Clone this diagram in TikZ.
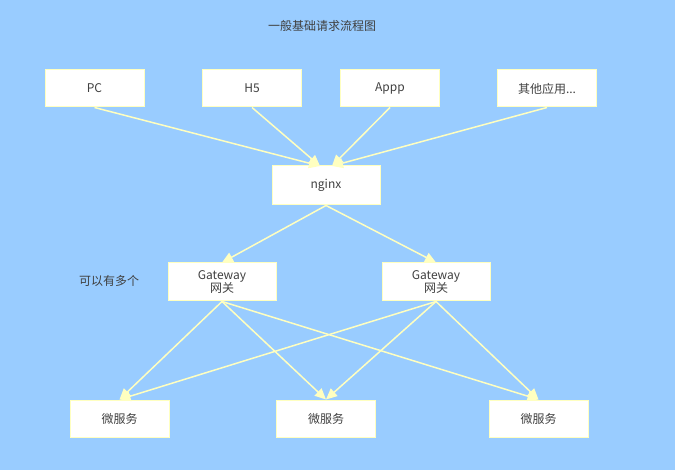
\documentclass[tikz,border=0pt]{standalone}
\usepackage{fontspec}
\setmainfont{Open Sans}
\newfontfamily\cjk{Noto Sans CJK SC}
\usetikzlibrary{arrows.meta}
\definecolor{bg}{HTML}{99CCFF}
\definecolor{ln}{HTML}{FFFFC0}
\tikzset{
 box/.style={draw=ln,fill=white,line width=1pt,minimum width=99pt,minimum height=37pt,inner sep=1pt,align=center,font=\cjk\fontsize{12}{13}\selectfont,text=black!75},
 conn/.style={draw=ln,line width=1.5pt,-{Triangle[length=11pt,width=10pt]}},
 lbl/.style={font=\cjk\fontsize{12}{13}\selectfont,text=black!75}
}
\begin{document}
\begin{tikzpicture}[x=1pt,y=-1pt]
\fill[bg] (0,0) rectangle (675,470);
\useasboundingbox (0,0) rectangle (675,470);
\node[lbl] (title) at (322,26) {一般基础请求流程图};
\node[box] (pc) at (94.5,88.5) {PC};
\node[box] (h5) at (252,88.5) {H5};
\node[box] (appp) at (390,88.5) {Appp};
\node[box] (other) at (547,88.5) {其他应用...};
\node[box,minimum width=108pt,minimum height=39pt] (nginx) at (326,185.5) {nginx};
\node[box,minimum width=108pt,minimum height=38pt] (g1) at (222,282) {Gateway\\网关};
\node[box,minimum width=108pt,minimum height=38pt] (g2) at (436,282) {Gateway\\网关};
\node[lbl] (note) at (109,281) {可以有多个};
\node[box] (m1) at (119.5,418.5) {微服务};
\node[box] (m2) at (326,418.5) {微服务};
\node[box] (m3) at (538.5,418.5) {微服务};
\coordinate (nl) at (320,166);
\coordinate (nr) at (332,166);
\draw[conn] (pc.south) -- (nl);
\draw[conn] (h5.south) -- (nl);
\draw[conn] (appp.south) -- (nr);
\draw[conn] (other.south) -- (nr);
\draw[conn] (nginx.south) -- (g1.north);
\draw[conn] (nginx.south) -- (g2.north);
\foreach \g in {g1,g2}{
 \foreach \m in {m1,m2,m3}{
  \draw[conn] (\g.south) -- (\m.north);
 }
}
\end{tikzpicture}
\end{document}
